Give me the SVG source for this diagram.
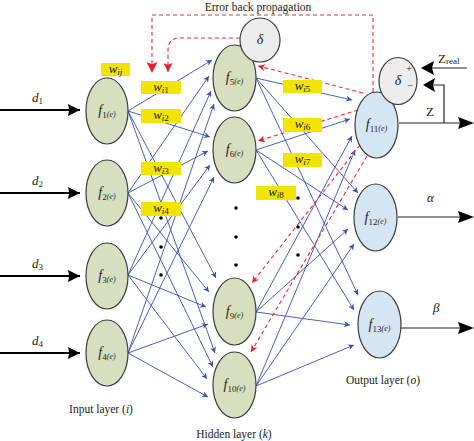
<svg xmlns="http://www.w3.org/2000/svg" width="474" height="441" viewBox="0 0 474 441">
<defs>
<marker id="ab" viewBox="0 0 10 10" refX="10" refY="5" markerWidth="8" markerHeight="6" markerUnits="userSpaceOnUse" orient="auto"><path d="M0,0 L10,5 L0,10 L3,5 z" fill="#3450b0"/></marker>
<marker id="ar" viewBox="0 0 10 10" refX="10" refY="5" markerWidth="8" markerHeight="7" markerUnits="userSpaceOnUse" orient="auto"><path d="M0,0 L10,5 L0,10 L3,5 z" fill="#e8202a"/></marker>
<marker id="arbig" viewBox="0 0 10 10" refX="10" refY="5" markerWidth="12" markerHeight="11" markerUnits="userSpaceOnUse" orient="auto"><path d="M0,0 L10,5 L0,10 L2,5 z" fill="#e8202a"/></marker>
<marker id="armid" viewBox="0 0 10 10" refX="10" refY="5" markerWidth="9" markerHeight="9" markerUnits="userSpaceOnUse" orient="auto"><path d="M0,0 L10,5 L0,10 L2,5 z" fill="#e8202a"/></marker>
<marker id="ak" viewBox="0 0 10 10" refX="10" refY="5" markerWidth="16" markerHeight="12" markerUnits="userSpaceOnUse" orient="auto"><path d="M0,0 L10,5 L0,10 L1,5 z" fill="#000"/></marker>
</defs>
<style>
.bl{stroke:#3450b0;stroke-width:0.9;fill:none;marker-end:url(#ab)}
.rd{stroke:#e8303a;stroke-width:1.1;fill:none;stroke-dasharray:4 3}
.bk{stroke:#000;stroke-width:2;fill:none;marker-end:url(#ak)}
.bk1{stroke:#222;stroke-width:1.2;fill:none}
.gn{fill:#d6e0c0;stroke:#3c3c3c;stroke-width:1.2}
.bu{fill:#d5e5f2;stroke:#3c3c3c;stroke-width:1.2}
.gy{fill:#ececec;stroke:#3c3c3c;stroke-width:1.2}
.yb{fill:#f0e400}
text{font-family:"Liberation Serif","Times New Roman",serif;fill:#222}
.nl{font-size:14px;text-anchor:middle}
.it{font-style:italic}
.sb{font-size:9px}
.sb2{font-size:8px;font-style:italic}
.wl{font-size:13px;text-anchor:middle}
.lab{font-size:11.5px;text-anchor:middle}
.dot{fill:#000}
</style>
<rect width="474" height="441" fill="#fff"/>
<g id="connectors">
<path class="bl" d="M128,111 L212,60"/><path class="bl" d="M128,111 L210,137"/><path class="bl" d="M128,111 L216,278"/><path class="bl" d="M128,111 L215,353"/>
<path class="bl" d="M128,193 L209,76"/><path class="bl" d="M128,193 L208,151"/><path class="bl" d="M128,193 L209,292"/><path class="bl" d="M128,193 L213,367"/>
<path class="bl" d="M128,275 L211,91"/><path class="bl" d="M128,275 L210,165"/><path class="bl" d="M128,275 L206,307"/><path class="bl" d="M128,275 L207,379"/>
<path class="bl" d="M128,353 L214,104"/><path class="bl" d="M128,353 L214,177"/><path class="bl" d="M128,353 L208,324"/><path class="bl" d="M128,353 L208,397"/>
<path class="bl" d="M256,78 L352,100"/><path class="bl" d="M256,78 L358,193"/><path class="bl" d="M256,78 L358,295"/>
<path class="bl" d="M256,150 L350,119"/><path class="bl" d="M256,150 L348,210"/><path class="bl" d="M256,150 L354,310"/>
<path class="bl" d="M256,312 L352,136"/><path class="bl" d="M256,312 L348,229"/><path class="bl" d="M256,312 L350,325"/>
<path class="bl" d="M256,386 L355,150"/><path class="bl" d="M256,386 L354,244"/><path class="bl" d="M256,386 L354,345"/>
<path class="rd" d="M373,92 L373,15 L152,15 L152,73" marker-end="url(#arbig)"/>
<path class="rd" d="M240,38 L180,38 Q168,38 168,50 L168,72" marker-end="url(#armid)"/>
<path class="rd" d="M363,93 L258,66" marker-end="url(#ar)"/>
<path class="rd" d="M358,110 L258,141" marker-end="url(#ar)"/>
<path class="rd" d="M360,145 L252,283" marker-end="url(#ar)"/>
<path class="rd" d="M367,156 L251,352" marker-end="url(#ar)"/>
<path class="bk" d="M0,110 L80,110"/><path class="bk" d="M0,193 L80,193"/><path class="bk" d="M0,276 L80,276"/><path class="bk" d="M0,353 L80,353"/>
<path class="bk1" d="M399,123 L460,123"/><path d="M458,117 L474,123 L458,129 L460,123 z" fill="#000"/>
<path class="bk1" d="M398,217 L460,217"/><path d="M458,211 L474,217 L458,223 L460,217 z" fill="#000"/>
<path class="bk1" d="M401,328 L460,328"/><path d="M458,322 L474,328 L458,334 L460,328 z" fill="#000"/>
<path class="bk1" d="M444,123 L444,85 L432,85"/><path d="M435,78 L423,85 L435,92 L433,85 z" fill="#000"/>
<path class="bk1" d="M467,68 L432,68"/><path d="M434,61 L421,68 L434,75 L432,68 z" fill="#000"/>
</g>
<g id="f1"><ellipse class="gn" cx="107" cy="111" rx="21" ry="33"/><text class="nl" x="107" y="115"><tspan class="it">f</tspan><tspan class="sb" dy="3">1</tspan><tspan class="sb2" dy="-1">(e)</tspan></text></g>
<g id="f2"><ellipse class="gn" cx="107" cy="193" rx="21" ry="33"/><text class="nl" x="107" y="197"><tspan class="it">f</tspan><tspan class="sb" dy="3">2</tspan><tspan class="sb2" dy="-1">(e)</tspan></text></g>
<g id="f3"><ellipse class="gn" cx="107" cy="276" rx="21" ry="33"/><text class="nl" x="107" y="280"><tspan class="it">f</tspan><tspan class="sb" dy="3">3</tspan><tspan class="sb2" dy="-1">(e)</tspan></text></g>
<g id="f4"><ellipse class="gn" cx="107" cy="353" rx="21" ry="33"/><text class="nl" x="107" y="357"><tspan class="it">f</tspan><tspan class="sb" dy="3">4</tspan><tspan class="sb2" dy="-1">(e)</tspan></text></g>
<g id="f5"><ellipse class="gn" cx="234.5" cy="78" rx="21.5" ry="33"/><text class="nl" x="234.5" y="82"><tspan class="it">f</tspan><tspan class="sb" dy="3">5</tspan><tspan class="sb2" dy="-1">(e)</tspan></text></g>
<g id="delta-hidden"><ellipse class="gy" cx="260" cy="40" rx="20" ry="22"/><text class="nl it" x="260" y="44">δ</text></g>
<g id="f6"><ellipse class="gn" cx="234.5" cy="150" rx="21.5" ry="33"/><text class="nl" x="234.5" y="154"><tspan class="it">f</tspan><tspan class="sb" dy="3">6</tspan><tspan class="sb2" dy="-1">(e)</tspan></text></g>
<g id="f9"><ellipse class="gn" cx="234.5" cy="311.5" rx="21.5" ry="33.5"/><text class="nl" x="234.5" y="316"><tspan class="it">f</tspan><tspan class="sb" dy="3">9</tspan><tspan class="sb2" dy="-1">(e)</tspan></text></g>
<g id="f10"><ellipse class="gn" cx="234.5" cy="385" rx="21.5" ry="33"/><text class="nl" x="234.5" y="389"><tspan class="it">f</tspan><tspan class="sb" dy="3">10</tspan><tspan class="sb2" dy="-1">(e)</tspan></text></g>
<g id="f11"><ellipse class="bu" cx="376.5" cy="125" rx="21.5" ry="33"/><text class="nl" x="376.5" y="129"><tspan class="it">f</tspan><tspan class="sb" dy="3">11</tspan><tspan class="sb2" dy="-1">(e)</tspan></text></g>
<g id="delta-out"><ellipse class="gy" cx="398" cy="81" rx="19" ry="23.5"/><text class="nl it" x="398" y="85">δ</text><text x="409" y="72" font-size="10" text-anchor="middle">+</text><text x="410" y="89" font-size="10" text-anchor="middle">−</text></g>
<g id="f12"><ellipse class="bu" cx="375.5" cy="217.5" rx="21.5" ry="33.5"/><text class="nl" x="375.5" y="222"><tspan class="it">f</tspan><tspan class="sb" dy="3">12</tspan><tspan class="sb2" dy="-1">(e)</tspan></text></g>
<g id="f13"><ellipse class="bu" cx="379.5" cy="324.5" rx="21.5" ry="33.5"/><text class="nl" x="379.5" y="329"><tspan class="it">f</tspan><tspan class="sb" dy="3">13</tspan><tspan class="sb2" dy="-1">(e)</tspan></text></g>
<g id="dots">
<circle class="dot" cx="161" cy="218" r="1.8"/><circle class="dot" cx="161" cy="247" r="1.8"/><circle class="dot" cx="161" cy="275" r="1.8"/>
<circle class="dot" cx="236" cy="208" r="1.8"/><circle class="dot" cx="236" cy="237" r="1.8"/><circle class="dot" cx="236" cy="265" r="1.8"/>
<circle class="dot" cx="298" cy="198" r="1.8"/><circle class="dot" cx="298" cy="227" r="1.8"/><circle class="dot" cx="298" cy="255" r="1.8"/>
</g>
<g id="weights">
<rect class="yb" x="101" y="63" width="29" height="13"/><text class="wl" x="115.5" y="73"><tspan class="it">w</tspan><tspan class="sb it" dy="2">ij</tspan></text>
<rect class="yb" x="141" y="81" width="40" height="13"/><text class="wl" x="161" y="91"><tspan class="it">w</tspan><tspan class="sb" dy="2"><tspan class="it">i</tspan>1</tspan></text>
<rect class="yb" x="141" y="109" width="40" height="14"/><text class="wl" x="161" y="119"><tspan class="it">w</tspan><tspan class="sb" dy="2"><tspan class="it">i</tspan>2</tspan></text>
<rect class="yb" x="141" y="162" width="40" height="13"/><text class="wl" x="161" y="172"><tspan class="it">w</tspan><tspan class="sb" dy="2"><tspan class="it">i</tspan>3</tspan></text>
<rect class="yb" x="141" y="202" width="40" height="14"/><text class="wl" x="161" y="212"><tspan class="it">w</tspan><tspan class="sb" dy="2"><tspan class="it">i</tspan>4</tspan></text>
<rect class="yb" x="283" y="80" width="39" height="13"/><text class="wl" x="302.5" y="90"><tspan class="it">w</tspan><tspan class="sb" dy="2"><tspan class="it">i</tspan>5</tspan></text>
<rect class="yb" x="283" y="118" width="39" height="14"/><text class="wl" x="302.5" y="128"><tspan class="it">w</tspan><tspan class="sb" dy="2"><tspan class="it">i</tspan>6</tspan></text>
<rect class="yb" x="283" y="153" width="39" height="14"/><text class="wl" x="302.5" y="163"><tspan class="it">w</tspan><tspan class="sb" dy="2"><tspan class="it">i</tspan>7</tspan></text>
<rect class="yb" x="256" y="186" width="40" height="14"/><text class="wl" x="276" y="196"><tspan class="it">w</tspan><tspan class="sb" dy="2"><tspan class="it">i</tspan>8</tspan></text>
</g>
<g id="labels">
<text class="lab" x="258" y="11">Error back propagation</text>
<text x="32" y="102" font-size="13"><tspan class="it">d</tspan><tspan class="sb" dy="2">1</tspan></text>
<text x="32" y="185" font-size="13"><tspan class="it">d</tspan><tspan class="sb" dy="2">2</tspan></text>
<text x="32" y="268" font-size="13"><tspan class="it">d</tspan><tspan class="sb" dy="2">3</tspan></text>
<text x="32" y="345" font-size="13"><tspan class="it">d</tspan><tspan class="sb" dy="2">4</tspan></text>
<text x="438" y="63" font-size="13">Z<tspan class="sb" dy="1">real</tspan></text>
<text x="426" y="116" font-size="13">Z</text>
<text x="427" y="202" font-size="13" class="it">α</text>
<text x="433" y="312" font-size="13" class="it">β</text>
<text class="lab" x="101" y="413">Input layer (<tspan class="it">i</tspan>)</text>
<text class="lab" x="234" y="438">Hidden layer (<tspan class="it">k</tspan>)</text>
<text class="lab" x="383" y="384">Output layer (<tspan class="it">o</tspan>)</text>
</g>
</svg>
